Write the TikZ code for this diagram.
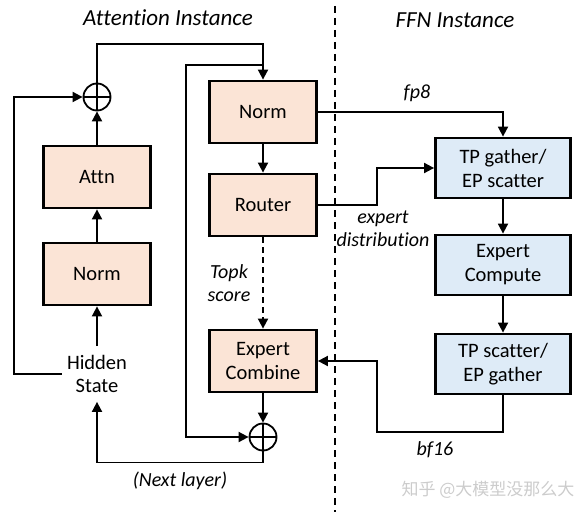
\documentclass[tikz,border=0pt]{standalone}
\usepackage{fontspec}
\setmainfont{Carlito}[Ligatures=NoCommon]
\newfontfamily\cjk{Noto Sans CJK SC}
\usetikzlibrary{arrows.meta}
\definecolor{lightpeach}{RGB}{251,228,214}
\definecolor{lightblue}{RGB}{222,235,247}

\begin{document}
\begin{tikzpicture}[x=1pt,y=-1pt,
    blk/.style={draw,line width=2.8pt,minimum width=107pt,minimum height=62pt,
        align=center,font=\fontsize{20.5}{24}\selectfont,inner sep=0pt},
    attblk/.style={blk,fill=lightpeach},
    ffnblk/.style={blk,fill=lightblue,minimum width=135pt,minimum height=60pt},
    addop/.style={draw,circle,line width=1.8pt,minimum size=27pt,inner sep=0pt,
        path picture={\draw[line width=1.2pt]
            (path picture bounding box.north) -- (path picture bounding box.south)
            (path picture bounding box.west) -- (path picture bounding box.east);}},
    arr/.style={line width=1.8pt,-{Triangle[length=10pt,width=10pt]}},
    lbl/.style={font=\fontsize{20}{23}\selectfont\itshape,align=center}]
\useasboundingbox (0,0) rectangle (580,516);

% titles and divider
\node[font=\fontsize{23}{26}\selectfont\itshape] (atttitle) at (168,18) {Attention Instance};
\node[font=\fontsize{23}{26}\selectfont\itshape] (ffntitle) at (455,20) {FFN Instance};
\draw[line width=1.5pt,dash pattern=on 7pt off 5pt] (335,6) -- (335,512);

% attention side
\node[attblk] (attn) at (97,177) {Attn};
\node[attblk] (norml) at (97,274) {Norm};
\node[addop] (adda) at (97,97) {};
\node[align=center,font=\fontsize{20.5}{23}\selectfont,inner xsep=5pt,inner ysep=9pt] (hidden) at (97,374) {Hidden\\State};
\node[attblk] (normr) at (263,112) {Norm};
\node[attblk] (router) at (263,205) {Router};
\node[attblk] (combine) at (263,361) {Expert\\Combine};
\node[addop] (addb) at (263,437) {};

% ffn side
\node[ffnblk] (gather) at (503,168) {TP gather/\\EP scatter};
\node[ffnblk] (compute) at (503,265) {Expert\\Compute};
\node[ffnblk] (scatter) at (503,364) {TP scatter/\\EP gather};

% connectors
\draw[arr] (hidden.north) -- (norml.south);
\draw[arr] (norml.north) -- (attn.south);
\draw[arr] (attn.north) -- (adda.south);
\draw[arr] (hidden.west) -- ++(-48,0) |- (adda.west);
\draw[arr] (adda.north) -- ++(0,-38.5) -| (normr.north);
\coordinate (tap) at (263,65);
\draw[arr] (tap) -- (186,65) |- (addb.west);
\draw[arr] (normr.south) -- (router.north);
\draw[arr,dashed,dash pattern=on 6pt off 4pt] (router.south) -- (combine.north);
\draw[arr] (combine.south) -- (addb.north);
\draw[arr] (addb.south) -- ++(0,11) -| (hidden.south);
\draw[arr] (normr.east) -| (gather.north);
\draw[arr] (router.east) -- (377,205) |- (gather.west);
\draw[arr] (gather.south) -- (compute.north);
\draw[arr] (compute.south) -- (scatter.north);
\draw[arr] (scatter.south) |- (377,432) |- (combine.east);

% labels
\node[lbl] (fp) at (417,93) {fp8};
\node[lbl] (dist) at (383,229) {expert\\distribution};
\node[lbl] (topk) at (229,283) {Topk\\score};
\node[lbl] (bf) at (435,450) {bf16};
\node[lbl] (next) at (180,481) {(Next layer)};
\node[font=\fontsize{17}{20}\selectfont\cjk,text=gray!40] (mark) at (488,490) {知乎 @大模型没那么大};
\end{tikzpicture}
\end{document}
